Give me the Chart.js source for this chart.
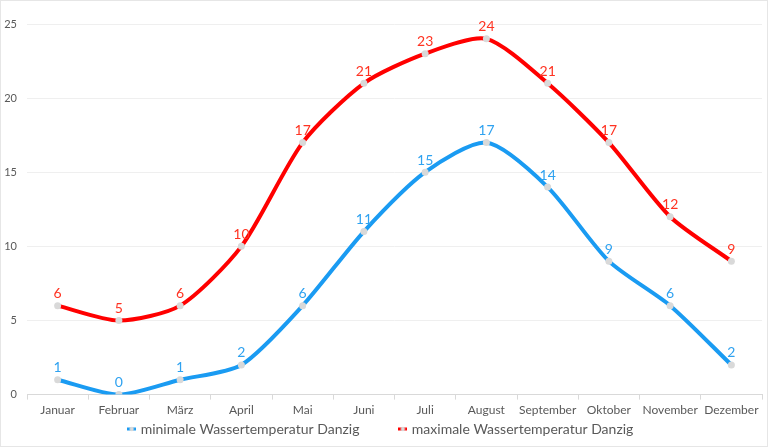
<!DOCTYPE html>
<html>
<head>
<meta charset="utf-8">
<script src="https://cdn.jsdelivr.net/npm/chart.js@4"></script>
<style>
  html, body { margin: 0; padding: 0; background: #fff; }
  #wrap { position: relative; width: 766px; height: 445px; border: 1px solid #e6e6e6; }
</style>
</head>
<body>
<div id="wrap"><canvas id="chart"></canvas></div>
<script>
// Data
const months = ['Januar', 'Februar', 'März', 'April', 'Mai', 'Juni', 'Juli', 'August', 'September', 'Oktober', 'November', 'Dezember'];
const minTemp = [1, 0, 1, 2, 6, 11, 15, 17, 14, 9, 6, 2];
const maxTemp = [6, 5, 6, 10, 17, 21, 23, 24, 21, 17, 12, 9];
const yTicks = [0, 5, 10, 15, 20, 25];

const blueColor = '#1a9bf2';
const redColor = '#ff0000';
const blueLabel = '#2fa2f0';
const redLabel = '#ff3322';
const textColor = '#595959';
const fontFamily = 'Lato, "Open Sans", sans-serif';

// legend marker: short line with grey dot
function legendMarker(color) {
    const c = document.createElement('canvas');
    c.width = 9; c.height = 6;
    const g = c.getContext('2d');
    g.strokeStyle = color;
    g.lineWidth = 3;
    g.beginPath(); g.moveTo(0, 3); g.lineTo(9, 3); g.stroke();
    g.fillStyle = '#d9d9d9';
    g.beginPath(); g.arc(4.5, 3, 2.2, 0, Math.PI * 2); g.fill();
    return c;
}

// value labels above points
const valueLabels = {
    id: 'valueLabels',
    afterDatasetsDraw(chart) {
        const ctx = chart.ctx;
        ctx.save();
        ctx.font = '14px ' + fontFamily;
        ctx.textAlign = 'center';
        ctx.textBaseline = 'bottom';
        chart.data.datasets.forEach((ds, i) => {
            ctx.fillStyle = ds.labelColor;
            chart.getDatasetMeta(i).data.forEach((pt, j) => {
                ctx.fillText(ds.data[j], pt.x, pt.y - 5);
            });
        });
        ctx.restore();
    }
};

const data = {
    labels: months,
    datasets: [
        {
            label: 'minimale Wassertemperatur Danzig',
            data: minTemp,
            borderColor: blueColor,
            labelColor: blueLabel,
            borderWidth: 4,
            pointRadius: 3.5,
            pointBackgroundColor: '#d9d9d9',
            pointBorderWidth: 0,
            tension: 0.25
        },
        {
            label: 'maximale Wassertemperatur Danzig',
            data: maxTemp,
            borderColor: redColor,
            labelColor: redLabel,
            borderWidth: 4,
            pointRadius: 3.5,
            pointBackgroundColor: '#d9d9d9',
            pointBorderWidth: 0,
            tension: 0.25
        }
    ]
};

const config = {
    type: 'line',
    data: data,
    options: {
        responsive: true,
        maintainAspectRatio: false,
        animation: false,
        layout: { padding: { left: 0, right: 5, top: 23, bottom: 0 } },
        plugins: {
            legend: {
                position: 'bottom',
                labels: {
                    color: textColor,
                    font: { family: fontFamily, size: 14 },
                    usePointStyle: true,
                    boxWidth: 4,
                    padding: 2,
                    generateLabels(chart) {
                        return chart.data.datasets.map((ds, i) => ({
                            text: i === 0 ? ds.label + '           ' : ds.label,
                            pointStyle: legendMarker(ds.borderColor),
                            fontColor: textColor,
                            datasetIndex: i,
                            hidden: false,
                            lineWidth: 0
                        }));
                    }
                }
            },
            tooltip: { enabled: false }
        },
        scales: {
            x: {
                offset: true,
                grid: { offset: true, drawOnChartArea: false, drawTicks: true, tickLength: 5, color: '#d9d9d9' },
                border: { color: '#d9d9d9' },
                ticks: { color: textColor, font: { family: fontFamily, size: 12 }, padding: 3, maxRotation: 0, autoSkip: false }
            },
            y: {
                min: 0,
                max: 25,
                afterFit(scale) { scale.width = 26; },
                afterBuildTicks(scale) { scale.ticks = yTicks.map(v => ({ value: v })); },
                grid: { color: '#efefef', drawTicks: false },
                border: { display: false },
                ticks: { color: textColor, font: { family: fontFamily, size: 11 }, padding: 10 }
            }
        }
    },
    plugins: [valueLabels]
};

const ctxChart = document.getElementById('chart');
new Chart(ctxChart, config);
</script>
</body>
</html>
